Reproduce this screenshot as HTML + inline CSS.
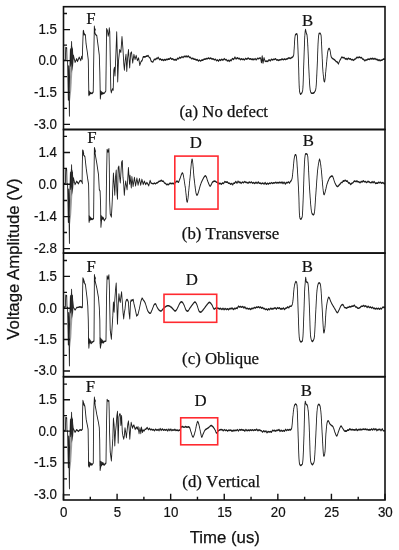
<!DOCTYPE html>
<html><head><meta charset="utf-8"><title>Voltage Amplitude vs Time</title><style>
html,body{margin:0;padding:0;background:#fff;width:399px;height:550px;overflow:hidden}
svg{display:block}
.w{fill:none;stroke:#1e1e1e;stroke-width:1.6;stroke-linejoin:round}
.r{fill:none;stroke:#ff2a30;stroke-width:1.6}
.f{fill:none;stroke:#111;stroke-width:1.6}
.t{fill:none;stroke:#111;stroke-width:1.4}
.yl{stroke:#111;stroke-width:0.18px;font-family:"Liberation Sans",Arial,sans-serif;font-size:13.8px;fill:#111;text-anchor:end}
.xl{stroke:#111;stroke-width:0.18px;font-family:"Liberation Sans",Arial,sans-serif;font-size:13.8px;fill:#111;text-anchor:middle}
.al{stroke:#111;stroke-width:0.25px;font-family:"Liberation Sans",Arial,sans-serif;font-size:16.8px;fill:#111}
.cp{stroke:#111;stroke-width:0.25px;font-kerning:none;font-family:"Liberation Serif","Times New Roman",serif;font-size:16.8px;fill:#111}
.lt{stroke:#111;stroke-width:0.2px;font-family:"Liberation Serif","Times New Roman",serif;font-size:16.8px;fill:#111}
</style></head><body>
<svg width="399" height="550" viewBox="0 0 399 550">
<rect width="399" height="550" fill="#fff"/>
<g transform="scale(0.550,1)">
<polyline class="w" points="116.4,60.5 118.9,60.0 119.5,47.5 121.3,48.0 121.8,60.0 122.9,61.0 124.2,100.0 124.9,66.0 126.2,116.0 126.9,71.0 128.0,49.0 128.9,66.0 130.2,41.7 130.9,63.0 131.8,49.0 132.7,59.0 133.6,55.6 136.5,62.2 139.5,58.9 140.9,61.4 144.0,57.3 146.9,60.5 148.4,56.5 149.6,59.0 150.4,45.0 151.3,31.0 152.0,30.7 152.7,34.0 155.3,35.0 156.5,43.8 158.9,52.6 160.5,60.0 161.1,80.0 161.6,95.5 162.5,94.5 164.5,93.0 167.3,93.5 169.5,92.0 170.4,60.0 171.5,26.3 172.5,32.5 173.6,34.4 176.0,35.7 178.2,45.0 180.5,55.0 181.5,72.0 182.4,98.8 183.6,93.5 186.4,93.6 190.0,93.0 192.4,91.0 193.1,60.0 193.8,28.8 195.3,30.5 196.7,36.0 197.6,34.0 198.7,28.1 199.6,32.0 200.5,60.0 201.5,90.0 202.4,92.6 204.2,89.0 205.8,90.0 206.9,70.0 208.0,67.6 209.1,75.8 211.1,48.6 212.2,32.1 213.3,54.5 214.0,81.7 215.5,60.5 217.6,49.8 219.8,52.2 221.8,36.8 223.5,48.6 225.1,64.0 226.2,70.0 227.6,60.5 229.1,54.5 230.5,71.1 232.0,58.1 233.6,49.8 235.8,67.6 237.6,53.4 239.1,52.2 241.3,62.8 243.5,54.5 245.5,59.3 247.6,55.7 249.8,60.5 252.0,58.1 254.2,65.2 256.4,61.6 257.4,61.0 258.4,60.5 258.7,60.0 259.0,59.4 259.4,58.6 259.7,57.9 260.1,57.3 260.5,56.9 262.1,56.8 263.8,56.9 265.0,56.5 266.2,56.0 267.3,56.3 269.4,55.6 271.4,57.5 273.0,58.0 274.7,61.0 276.5,61.7 278.1,62.0 280.4,59.3 282.3,59.7 284.1,58.4 285.8,58.7 287.6,57.4 290.0,59.6 291.8,58.9 293.6,60.2 295.2,59.6 297.2,60.5 299.0,59.5 300.6,60.2 302.3,59.3 303.9,59.8 305.7,58.9 307.8,59.2 310.0,57.9 312.2,59.2 314.1,58.7 316.5,60.1 318.7,59.4 320.3,60.3 322.6,58.4 324.8,58.8 326.5,57.3 328.5,58.1 330.8,56.6 332.8,57.6 335.0,56.2 336.8,56.8 338.5,56.0 340.1,57.0 342.2,55.9 344.3,57.4 346.3,57.3 348.5,58.8 350.5,58.2 352.7,59.3 354.8,59.1 356.5,60.0 358.7,59.6 360.9,61.0 362.9,60.1 364.9,61.1 367.1,59.9 369.2,60.2 370.9,59.1 373.1,59.3 375.1,58.5 376.8,58.9 378.9,57.9 381.1,58.8 383.1,58.1 385.1,59.0 387.4,58.7 389.8,59.9 391.4,59.1 393.6,60.7 395.6,59.9 397.4,61.1 399.1,59.5 400.8,60.4 403.2,59.3 405.5,60.2 407.8,58.6 409.6,59.8 411.5,59.5 413.1,60.9 415.1,60.2 416.8,61.4 418.7,60.0 420.3,60.7 422.5,58.6 424.9,59.4 427.2,57.2 429.1,59.0 431.5,57.7 433.4,58.7 435.2,58.3 436.9,59.7 438.7,58.7 440.5,59.5 442.5,59.1 444.4,59.9 446.7,58.4 448.8,59.2 451.2,58.0 453.4,59.1 455.6,58.7 457.8,59.5 459.6,59.1 461.9,59.6 463.9,58.6 465.7,59.9 468.1,58.3 470.2,58.8 472.3,58.0 473.6,58.0 473.9,58.5 474.2,59.2 474.5,60.2 474.8,61.1 475.0,61.9 475.2,62.4 475.5,62.5 475.6,62.2 475.7,61.7 475.9,60.9 476.0,60.0 476.1,59.1 476.2,58.2 476.3,57.3 476.5,56.6 476.6,56.2 476.7,56.0 476.9,56.2 477.0,56.6 477.1,57.3 477.2,58.1 477.4,58.9 477.5,59.9 477.6,60.8 477.8,61.6 477.9,62.3 478.0,62.8 478.2,63.0 478.4,62.9 478.6,62.4 478.8,61.7 479.1,60.8 479.3,59.8 479.5,59.0 479.8,58.3 480.0,58.0 480.4,58.1 480.7,58.8 481.1,59.6 481.5,60.5 481.8,61.0 483.6,61.4 485.4,60.9 487.1,61.5 489.1,59.7 491.5,60.9 493.4,59.2 495.2,59.9 497.0,59.3 498.8,59.5 500.9,58.7 503.1,60.2 505.0,59.8 506.9,60.4 508.6,59.7 510.9,59.6 513.0,59.1 515.2,59.7 517.1,58.9 519.0,59.6 521.3,58.9 523.6,58.6 525.3,57.7 527.6,58.5 529.8,57.7 531.0,57.4 532.0,57.0 532.9,56.5 533.6,55.7 533.9,55.3 534.0,54.8 534.2,54.3 534.3,53.8 534.3,53.2 534.4,52.6 534.5,51.9 534.5,51.2 534.6,50.4 534.7,49.6 534.8,49.1 534.9,48.6 534.9,48.0 535.0,47.4 535.1,46.7 535.1,46.0 535.2,45.4 535.3,44.7 535.4,44.0 535.4,43.3 535.5,42.6 535.6,41.9 535.6,41.3 535.7,40.7 535.8,40.1 535.9,39.5 535.9,39.0 536.0,38.6 536.2,37.5 536.4,36.6 536.6,35.9 536.8,35.4 537.0,34.9 537.3,34.5 539.1,33.9 539.9,33.9 540.5,35.2 540.6,35.6 540.7,35.9 540.7,36.3 540.8,36.8 540.8,37.3 540.9,37.8 540.9,38.3 541.0,38.9 541.0,39.5 541.1,40.1 541.1,40.8 541.2,41.5 541.2,42.2 541.3,43.0 541.3,43.8 541.4,44.6 541.5,45.5 541.5,46.0 541.5,46.4 541.6,46.9 541.6,47.4 541.6,48.0 541.7,48.5 541.7,49.0 541.8,49.6 541.8,50.2 541.9,50.8 541.9,51.3 541.9,51.9 542.0,52.6 542.0,53.2 542.1,53.8 542.1,54.4 542.2,55.1 542.2,55.7 542.3,56.3 542.3,57.0 542.4,57.6 542.4,58.3 542.4,58.9 542.5,59.6 542.5,60.2 542.6,60.9 542.6,61.5 542.7,62.2 542.7,62.8 542.8,63.4 542.8,64.1 542.8,64.7 542.9,65.3 542.9,65.9 542.9,66.5 543.0,67.1 543.0,67.8 543.1,68.4 543.1,69.0 543.1,69.7 543.2,70.3 543.2,71.0 543.2,71.7 543.2,72.3 543.3,73.0 543.3,73.7 543.3,74.3 543.4,75.0 543.4,75.7 543.4,76.3 543.5,77.0 543.5,77.7 543.5,78.3 543.5,78.9 543.6,79.6 543.6,80.2 543.6,80.8 543.7,81.4 543.7,82.0 543.7,82.5 543.8,83.1 543.8,83.6 543.8,84.1 543.9,84.6 543.9,85.1 543.9,85.6 544.0,86.0 544.0,86.4 544.1,87.6 544.2,88.6 544.4,89.4 544.5,90.1 544.6,90.8 544.7,91.3 544.9,91.8 545.0,92.2 545.2,92.5 545.3,92.9 545.5,93.2 546.3,94.1 547.3,93.9 547.9,93.6 548.5,93.2 549.1,92.6 549.6,91.8 549.8,91.4 550.0,91.1 550.1,90.8 550.3,90.5 550.4,90.0 550.5,89.4 550.6,88.7 550.8,87.7 550.9,86.4 550.9,86.0 551.0,85.6 551.0,85.1 551.1,84.7 551.1,84.2 551.1,83.7 551.2,83.2 551.2,82.6 551.2,82.1 551.3,81.5 551.3,80.9 551.4,80.3 551.4,79.7 551.4,79.0 551.5,78.4 551.5,77.7 551.5,77.1 551.6,76.4 551.6,75.8 551.7,75.1 551.7,74.4 551.7,73.7 551.8,73.1 551.8,72.4 551.8,71.7 551.9,71.0 551.9,70.4 552.0,69.7 552.0,69.0 552.0,68.4 552.1,67.8 552.1,67.1 552.1,66.5 552.2,65.9 552.2,65.3 552.3,64.7 552.3,64.1 552.3,63.4 552.4,62.8 552.4,62.2 552.5,61.5 552.5,60.9 552.5,60.2 552.6,59.6 552.6,58.9 552.7,58.3 552.7,57.6 552.7,57.0 552.8,56.3 552.8,55.7 552.9,55.0 552.9,54.4 552.9,53.8 553.0,53.1 553.0,52.5 553.0,51.9 553.1,51.3 553.1,50.7 553.2,50.1 553.2,49.6 553.2,49.0 553.3,48.5 553.3,47.9 553.3,47.4 553.4,46.9 553.4,46.4 553.4,46.0 553.5,45.5 553.5,44.6 553.6,43.8 553.6,43.0 553.7,42.2 553.7,41.6 553.8,40.9 553.8,40.3 553.8,39.8 553.9,39.2 553.9,38.7 554.0,38.2 554.0,37.8 554.0,37.3 554.1,36.8 554.1,36.4 554.2,35.9 554.3,35.1 554.4,34.3 554.5,33.6 554.6,33.0 554.7,32.4 554.8,31.8 554.9,31.3 555.0,30.9 555.1,30.5 555.5,29.5 555.7,29.9 555.9,30.4 556.2,31.1 556.5,31.9 556.8,32.6 557.1,33.2 557.4,33.8 557.7,34.2 558.1,34.8 558.4,35.9 558.4,36.3 558.5,36.7 558.6,37.1 558.7,37.6 558.7,38.0 558.8,38.5 558.9,39.0 559.0,39.6 559.1,40.2 559.1,40.8 559.2,41.5 559.3,42.2 559.4,42.9 559.5,43.7 559.5,44.6 559.6,45.5 559.7,46.0 559.7,46.4 559.8,46.9 559.8,47.4 559.9,47.9 559.9,48.5 559.9,49.0 560.0,49.6 560.0,50.1 560.1,50.7 560.1,51.3 560.2,51.9 560.2,52.5 560.3,53.1 560.3,53.8 560.4,54.4 560.4,55.0 560.5,55.7 560.5,56.3 560.6,57.0 560.6,57.6 560.7,58.3 560.7,58.9 560.8,59.6 560.8,60.2 560.9,60.9 560.9,61.5 561.0,62.2 561.0,62.8 561.1,63.4 561.1,64.1 561.2,64.7 561.2,65.3 561.3,65.9 561.3,66.5 561.4,67.1 561.4,67.8 561.5,68.4 561.5,69.0 561.6,69.7 561.7,70.4 561.7,71.0 561.8,71.7 561.8,72.4 561.9,73.0 562.0,73.7 562.0,74.4 562.1,75.1 562.1,75.7 562.2,76.4 562.2,77.0 562.3,77.7 562.4,78.3 562.4,79.0 562.5,79.6 562.6,80.2 562.6,80.8 562.7,81.4 562.7,82.0 562.8,82.6 562.9,83.1 562.9,83.6 563.0,84.2 563.0,84.6 563.1,85.1 563.2,85.6 563.2,86.0 563.3,86.4 563.5,87.6 563.7,88.6 563.8,89.5 564.0,90.1 564.2,90.7 564.4,91.1 564.6,91.5 564.8,91.9 565.0,92.2 565.3,92.5 566.2,93.2 567.2,93.3 568.4,93.2 569.3,93.1 570.3,92.9 571.3,92.5 572.2,91.8 572.5,91.5 572.8,91.2 573.1,90.9 573.4,90.5 573.7,90.1 574.0,89.5 574.2,88.7 574.5,87.7 574.7,86.4 574.8,86.0 574.9,85.6 574.9,85.2 575.0,84.7 575.1,84.2 575.1,83.7 575.2,83.2 575.2,82.7 575.3,82.1 575.4,81.6 575.4,81.0 575.5,80.4 575.5,79.8 575.6,79.2 575.7,78.5 575.7,77.9 575.8,77.3 575.8,76.6 575.9,76.0 576.0,75.3 576.0,74.6 576.1,73.9 576.1,73.3 576.2,72.6 576.2,71.9 576.3,71.2 576.3,70.6 576.4,69.9 576.5,69.2 576.5,68.5 576.6,67.9 576.6,67.2 576.7,66.5 576.7,65.9 576.8,65.3 576.8,64.7 576.9,64.1 576.9,63.5 577.0,62.9 577.0,62.2 577.1,61.6 577.1,60.9 577.1,60.3 577.2,59.6 577.2,58.9 577.3,58.3 577.3,57.6 577.4,56.9 577.4,56.2 577.5,55.6 577.5,54.9 577.5,54.2 577.6,53.5 577.6,52.9 577.7,52.2 577.7,51.5 577.8,50.9 577.8,50.3 577.8,49.6 577.9,49.0 577.9,48.4 578.0,47.8 578.0,47.2 578.0,46.6 578.1,46.1 578.1,45.6 578.2,45.0 578.2,44.5 578.2,44.0 578.3,43.6 578.3,43.1 578.4,42.7 578.5,41.6 578.6,40.5 578.7,39.6 578.8,38.8 578.9,38.1 579.0,37.5 579.1,36.9 579.2,36.4 579.3,36.0 579.4,35.6 579.4,35.2 579.5,34.9 579.6,34.5 580.2,33.4 580.9,33.5 582.2,33.4 583.5,34.5 583.6,34.9 583.7,35.2 583.8,35.6 583.9,36.0 583.9,36.4 584.0,36.9 584.1,37.5 584.1,38.1 584.2,38.8 584.3,39.6 584.3,40.5 584.4,41.6 584.5,42.7 584.6,43.1 584.6,43.6 584.7,44.1 584.7,44.6 584.8,45.1 584.8,45.6 584.9,46.2 584.9,46.8 585.0,47.4 585.0,48.0 585.1,48.6 585.1,49.3 585.2,49.9 585.2,50.6 585.3,51.3 585.3,52.0 585.4,52.7 585.4,53.3 585.5,54.0 585.6,54.7 585.6,55.4 585.7,56.1 585.7,56.8 585.8,57.5 585.8,58.2 585.9,58.9 586.0,59.5 586.0,60.2 586.1,60.8 586.1,61.5 586.2,62.1 586.2,62.7 586.3,63.3 586.3,63.8 586.4,64.4 586.4,64.9 586.5,65.4 586.5,65.9 586.6,66.8 586.7,67.6 586.8,68.4 586.9,69.2 587.0,70.0 587.1,70.7 587.2,71.4 587.3,72.0 587.4,72.7 587.5,73.3 587.6,73.9 587.7,74.4 587.8,75.0 587.9,75.5 588.0,76.0 588.0,76.5 588.1,76.9 588.2,77.4 588.3,77.8 588.4,78.2 588.7,79.5 588.9,80.5 589.2,81.1 589.4,81.4 589.6,81.6 590.0,81.8 590.4,81.3 590.9,79.6 591.0,79.2 591.1,78.8 591.2,78.3 591.3,77.8 591.4,77.3 591.5,76.7 591.6,76.1 591.7,75.5 591.8,74.8 591.9,74.2 592.0,73.5 592.1,72.8 592.2,72.1 592.4,71.4 592.5,70.7 592.6,69.9 592.7,69.2 592.8,68.5 592.9,67.9 593.0,67.2 593.2,66.5 593.3,65.9 593.4,65.3 593.5,64.6 593.6,64.0 593.7,63.3 593.8,62.6 594.0,61.9 594.1,61.2 594.2,60.5 594.3,59.8 594.4,59.2 594.5,58.5 594.7,57.8 594.8,57.2 594.9,56.5 595.0,55.9 595.1,55.3 595.2,54.7 595.4,54.2 595.5,53.7 595.6,53.2 595.7,52.7 595.8,52.3 596.2,51.0 596.6,50.1 597.0,49.4 597.4,49.0 597.8,48.7 598.2,48.5 598.8,48.5 599.4,49.1 600.0,50.2 600.2,50.7 600.4,51.2 600.6,51.9 600.8,52.6 601.0,53.3 601.2,54.0 601.4,54.7 601.6,55.4 601.8,55.9 602.0,56.4 602.6,57.2 603.2,57.7 603.8,58.0 604.5,58.4 605.4,58.8 606.3,59.1 607.2,59.4 608.2,59.8 609.1,60.3 610.1,60.8 611.1,61.5 613.0,61.9 615.3,63.9 617.7,60.6 619.3,59.1 621.4,57.0 623.7,57.7 625.8,57.5 627.8,59.1 629.4,58.5 631.2,59.5 633.3,58.1 635.0,59.0 637.1,58.7 638.8,59.8 640.9,59.5 642.8,60.4 644.8,59.3 646.7,58.8 649.1,57.3 651.4,57.7 653.1,56.9 655.5,57.7 657.4,57.6 659.4,59.1 661.3,59.4 663.4,60.9 665.2,59.9 667.1,60.0 669.2,59.0 671.5,59.5 673.5,58.5 675.8,58.9 678.1,58.4 679.9,59.3 681.7,58.4 683.7,59.5 685.5,59.2 687.6,60.5 689.3,59.8 691.1,60.9 692.8,60.0 694.5,60.3 696.8,59.1 700.0,59.1"/>
<polyline class="w" points="116.4,183.8 118.9,183.3 119.5,169.3 121.3,169.8 121.8,183.3 122.9,184.3 124.2,222.3 124.9,189.3 126.2,243.3 126.9,194.3 128.0,172.3 128.9,189.3 130.2,165.0 130.9,186.3 131.8,172.3 132.7,182.3 133.6,178.0 136.4,184.5 139.5,181.3 142.5,183.7 145.5,180.5 148.4,181.3 149.8,183.3 149.3,181.0 149.6,165.0 150.2,150.2 151.3,151.0 152.2,155.1 154.4,156.7 156.7,168.2 159.6,179.6 161.1,184.6 161.6,200.0 162.0,222.2 162.7,219.0 164.5,218.5 167.3,219.5 170.2,218.5 170.7,190.0 171.3,160.0 171.6,147.7 172.4,149.0 173.1,154.3 176.0,163.3 179.1,174.7 180.5,189.5 182.0,191.1 182.9,205.0 183.5,227.1 184.9,219.0 187.3,217.5 189.5,220.6 192.7,218.0 193.6,180.0 194.7,149.5 196.4,152.0 198.0,148.8 198.7,165.0 199.3,200.0 200.4,214.0 202.5,216.8 203.8,204.5 206.2,173.2 207.5,184.0 208.7,195.0 210.0,177.2 211.3,170.4 212.5,190.9 213.6,199.0 214.9,167.7 216.2,166.3 217.5,177.2 218.7,182.7 221.1,162.3 222.4,160.9 223.6,177.2 224.9,184.0 226.0,195.0 227.3,186.8 228.5,181.3 229.8,185.4 231.1,189.5 233.5,167.7 234.7,177.2 235.5,184.0 236.4,175.6 238.7,187.6 239.8,176.9 242.0,186.3 244.4,177.5 246.5,185.7 248.9,178.2 251.1,185.0 253.5,178.8 255.8,185.0 258.0,179.4 260.4,184.4 262.5,181.3 264.9,184.4 267.1,182.5 270.5,185.6 272.9,180.5 274.6,183.0 276.8,183.5 279.0,183.7 280.9,183.1 282.6,183.9 284.4,183.0 286.8,182.6 289.2,181.2 291.0,181.2 293.3,180.3 294.9,181.2 296.8,181.0 298.6,182.7 300.9,183.4 302.8,184.6 305.1,184.2 306.7,184.7 309.0,183.1 311.2,183.8 313.1,183.3 315.5,183.8 317.3,182.3 319.1,182.6 320.7,181.3 322.0,181.4 322.9,181.3 323.8,182.0 324.5,182.3 324.9,182.0 325.3,181.5 325.7,180.8 326.2,180.1 326.7,179.4 327.3,178.6 327.7,178.0 328.2,177.2 328.8,176.2 329.3,175.3 329.9,174.4 330.5,173.7 331.1,173.2 331.6,173.0 332.2,173.3 332.4,173.5 332.6,173.8 332.8,174.1 333.0,174.5 333.2,175.0 333.4,175.5 333.6,176.0 333.8,176.6 334.0,177.2 334.2,177.9 334.4,178.5 334.6,179.2 334.8,179.9 335.0,180.6 335.2,181.4 335.4,182.1 335.6,182.8 335.8,183.6 336.0,184.3 336.2,185.0 336.4,185.7 336.6,186.3 336.7,187.0 336.9,187.6 337.1,188.2 337.2,188.9 337.4,189.6 337.6,190.4 337.7,191.2 337.9,192.0 338.0,192.9 338.2,193.7 338.3,194.5 338.5,195.4 338.6,196.2 338.7,197.0 338.9,197.8 339.0,198.5 339.2,199.2 339.3,199.8 339.5,200.4 339.6,200.9 339.7,201.3 339.9,201.6 340.1,201.8 340.2,202.0 340.4,202.0 340.5,201.9 340.7,201.8 340.8,201.6 340.9,201.3 341.0,201.1 341.1,200.7 341.3,200.3 341.4,199.9 341.5,199.5 341.6,199.0 341.8,198.4 341.9,197.9 342.0,197.3 342.1,196.6 342.3,196.0 342.4,195.3 342.5,194.6 342.7,193.9 342.8,193.2 342.9,192.5 343.0,191.7 343.2,190.9 343.3,190.2 343.4,189.4 343.6,188.6 343.7,187.9 343.8,187.1 344.0,186.3 344.1,185.6 344.2,184.8 344.3,184.1 344.5,183.4 344.6,182.7 344.7,182.0 344.8,181.3 345.0,180.7 345.1,180.1 345.2,179.5 345.3,178.8 345.5,178.1 345.6,177.4 345.7,176.6 345.9,175.8 346.0,175.1 346.1,174.3 346.2,173.5 346.4,172.6 346.5,171.8 346.6,171.0 346.7,170.2 346.8,169.4 347.0,168.6 347.1,167.8 347.2,167.0 347.3,166.3 347.5,165.6 347.6,164.9 347.7,164.2 347.8,163.5 347.9,162.9 348.1,162.3 348.2,161.8 348.3,161.3 348.4,160.9 348.6,160.5 348.7,160.1 348.8,159.8 348.9,159.6 349.0,159.4 349.2,159.3 349.3,159.3 349.4,159.3 349.5,159.4 349.6,159.6 349.7,159.9 349.9,160.2 350.0,160.6 350.1,161.0 350.2,161.5 350.3,162.0 350.4,162.5 350.6,163.2 350.7,163.8 350.8,164.5 350.9,165.2 351.0,165.9 351.1,166.7 351.2,167.5 351.4,168.3 351.5,169.1 351.6,169.9 351.7,170.7 351.8,171.5 351.9,172.3 352.0,173.1 352.2,173.9 352.3,174.7 352.4,175.5 352.5,176.2 352.6,177.0 352.8,177.7 352.9,178.3 353.0,179.0 353.1,179.6 353.3,180.1 353.4,180.8 353.6,181.6 353.8,182.3 354.0,183.1 354.1,183.9 354.3,184.7 354.5,185.5 354.6,186.3 354.8,187.0 355.0,187.8 355.1,188.6 355.3,189.3 355.5,190.0 355.7,190.7 355.9,191.3 356.1,191.9 356.2,192.5 356.4,193.0 356.6,193.5 356.9,193.9 357.1,194.3 357.3,194.6 357.5,194.8 357.8,195.0 358.0,195.1 358.3,195.1 358.6,195.0 358.9,194.8 359.3,194.4 359.6,194.0 360.0,193.5 360.3,192.9 360.7,192.3 361.1,191.6 361.4,190.9 361.8,190.1 362.2,189.3 362.6,188.5 363.0,187.7 363.4,187.0 363.8,186.2 364.1,185.5 364.5,184.8 364.9,184.2 365.3,183.6 365.6,183.1 366.2,182.4 366.8,181.6 367.5,180.8 368.1,180.1 368.7,179.4 369.3,178.7 369.9,178.1 370.5,177.5 371.1,177.0 371.7,176.6 372.3,176.2 372.8,176.0 373.3,175.9 373.9,176.0 374.4,176.2 374.9,176.7 375.4,177.3 375.9,178.0 376.3,178.8 376.7,179.6 377.1,180.3 377.6,181.0 378.0,181.6 378.5,182.3 379.0,183.0 379.5,183.7 380.0,184.4 380.5,185.1 381.0,185.6 381.5,185.9 382.0,186.1 382.6,186.0 383.2,185.5 383.8,184.9 384.4,184.2 385.0,183.4 385.6,182.8 386.2,182.3 387.2,181.8 388.2,181.4 389.2,181.2 390.2,181.1 391.2,181.2 392.2,181.5 393.2,181.9 394.4,182.3 395.5,182.6 396.9,182.8 397.5,183.5 396.4,183.5 398.2,183.6 400.6,183.4 402.4,184.3 404.7,182.9 406.6,183.5 408.6,181.6 410.9,182.3 413.2,181.9 415.4,183.2 417.5,183.2 419.4,184.2 421.6,183.4 423.3,184.8 425.1,183.0 426.8,183.1 428.6,181.5 430.9,183.2 432.7,181.2 434.4,182.4 436.6,182.1 438.4,183.4 440.5,182.1 442.7,182.7 444.8,181.6 447.1,182.4 449.1,182.5 451.3,183.2 453.1,181.9 454.8,182.9 456.9,181.9 458.8,183.2 460.8,182.6 463.1,183.5 465.5,182.2 467.4,183.4 469.7,182.0 471.4,183.3 473.0,183.1 475.4,183.7 477.8,183.0 480.1,184.1 481.9,182.5 484.2,184.3 486.3,183.3 488.1,184.1 489.8,183.1 491.6,183.6 493.7,182.6 495.3,183.4 497.5,182.7 499.3,183.0 501.6,182.3 503.2,183.1 505.1,182.5 507.2,182.9 509.0,182.1 510.9,183.1 512.7,182.0 514.6,183.5 516.5,182.2 518.8,184.0 520.7,182.5 522.8,182.7 524.4,181.9 526.4,183.1 528.3,181.2 529.5,180.8 530.0,180.1 530.5,179.4 530.9,178.6 531.1,178.1 531.3,177.6 531.4,177.1 531.6,176.5 531.7,176.0 531.8,175.3 532.0,174.7 532.1,174.0 532.2,173.2 532.4,172.4 532.5,171.6 532.6,171.1 532.7,170.5 532.8,170.0 532.9,169.4 533.1,168.7 533.2,168.1 533.3,167.4 533.4,166.7 533.5,166.0 533.6,165.3 533.7,164.6 533.8,163.9 534.0,163.2 534.1,162.6 534.2,161.9 534.3,161.3 534.4,160.8 534.5,160.2 534.6,159.7 534.7,159.3 535.0,158.2 535.3,157.3 535.6,156.5 535.9,155.9 536.1,155.5 536.4,155.1 536.7,154.9 537.5,154.7 538.2,155.2 538.9,156.7 539.0,157.1 539.1,157.5 539.2,157.9 539.3,158.3 539.4,158.8 539.5,159.3 539.5,159.8 539.6,160.3 539.7,160.9 539.8,161.5 539.9,162.2 540.0,162.9 540.0,163.6 540.1,164.4 540.2,165.2 540.3,166.1 540.4,167.0 540.5,168.0 540.6,168.4 540.7,168.9 540.7,169.4 540.8,169.9 540.8,170.4 540.9,170.9 540.9,171.5 541.0,172.0 541.1,172.6 541.1,173.2 541.2,173.7 541.3,174.3 541.3,174.9 541.4,175.5 541.5,176.2 541.5,176.8 541.6,177.4 541.7,178.1 541.7,178.7 541.8,179.4 541.9,180.0 541.9,180.7 542.0,181.3 542.1,182.0 542.1,182.6 542.2,183.3 542.3,183.9 542.3,184.6 542.4,185.3 542.5,185.9 542.5,186.5 542.6,187.2 542.7,187.8 542.7,188.4 542.8,189.1 542.8,189.7 542.9,190.3 542.9,190.9 543.0,191.5 543.0,192.0 543.1,192.6 543.1,193.3 543.2,193.9 543.2,194.6 543.3,195.3 543.3,195.9 543.4,196.6 543.4,197.3 543.5,198.0 543.5,198.7 543.5,199.3 543.6,200.0 543.6,200.7 543.6,201.4 543.7,202.1 543.7,202.7 543.7,203.4 543.8,204.0 543.8,204.7 543.8,205.3 543.8,205.9 543.9,206.6 543.9,207.2 543.9,207.8 544.0,208.4 544.0,208.9 544.0,209.5 544.1,210.0 544.1,210.5 544.1,211.1 544.2,211.5 544.2,212.0 544.2,212.5 544.3,212.9 544.3,213.3 544.4,213.7 544.6,215.2 544.8,216.3 545.0,217.1 545.2,217.7 545.4,218.2 545.7,218.5 545.9,218.7 546.2,219.0 547.4,219.1 548.5,218.0 548.8,217.7 549.0,217.5 549.2,217.3 549.4,216.9 549.6,216.2 549.8,215.2 550.0,213.7 550.0,213.3 550.1,212.9 550.1,212.5 550.2,212.1 550.2,211.6 550.3,211.1 550.3,210.6 550.4,210.1 550.4,209.6 550.5,209.0 550.5,208.5 550.5,207.9 550.6,207.3 550.6,206.7 550.7,206.1 550.7,205.5 550.8,204.8 550.8,204.2 550.9,203.5 550.9,202.9 551.0,202.2 551.0,201.5 551.1,200.9 551.1,200.2 551.2,199.5 551.2,198.8 551.3,198.1 551.3,197.4 551.4,196.7 551.4,196.0 551.4,195.3 551.5,194.7 551.5,194.0 551.6,193.3 551.6,192.6 551.7,192.0 551.7,191.5 551.8,190.9 551.8,190.3 551.8,189.7 551.9,189.1 551.9,188.4 551.9,187.8 552.0,187.2 552.0,186.5 552.1,185.9 552.1,185.2 552.1,184.6 552.2,183.9 552.2,183.2 552.2,182.5 552.3,181.9 552.3,181.2 552.4,180.5 552.4,179.9 552.4,179.2 552.5,178.5 552.5,177.8 552.5,177.2 552.6,176.5 552.6,175.9 552.7,175.2 552.7,174.6 552.7,173.9 552.8,173.3 552.8,172.7 552.9,172.1 552.9,171.5 552.9,170.9 553.0,170.3 553.0,169.8 553.0,169.2 553.1,168.7 553.1,168.2 553.2,167.7 553.2,167.2 553.2,166.7 553.3,166.3 553.4,165.3 553.4,164.4 553.5,163.6 553.6,162.7 553.7,162.0 553.8,161.2 553.9,160.6 554.0,159.9 554.0,159.3 554.1,158.7 554.2,158.2 554.3,157.7 554.4,157.2 554.5,156.8 554.6,156.4 554.7,156.0 554.7,155.6 554.8,155.2 554.9,154.9 555.7,153.7 556.5,154.0 557.8,153.9 559.1,154.9 559.2,155.2 559.3,155.5 559.4,155.9 559.5,156.2 559.6,156.6 559.7,157.0 559.8,157.5 559.8,158.1 559.9,158.8 560.0,159.6 560.1,160.5 560.2,161.6 560.4,162.8 560.4,163.2 560.5,163.6 560.5,164.1 560.5,164.6 560.6,165.1 560.6,165.6 560.7,166.1 560.8,166.6 560.8,167.2 560.9,167.8 560.9,168.4 561.0,169.0 561.0,169.6 561.1,170.2 561.1,170.8 561.2,171.5 561.3,172.1 561.3,172.8 561.4,173.4 561.4,174.1 561.5,174.8 561.6,175.5 561.6,176.1 561.7,176.8 561.7,177.5 561.8,178.2 561.9,178.9 561.9,179.6 562.0,180.3 562.1,180.9 562.1,181.6 562.2,182.3 562.3,183.0 562.3,183.6 562.4,184.3 562.4,184.9 562.5,185.5 562.6,186.2 562.6,186.8 562.7,187.4 562.8,188.0 562.8,188.5 562.9,189.1 563.0,189.8 563.1,190.5 563.2,191.2 563.2,191.8 563.3,192.5 563.4,193.2 563.5,193.9 563.6,194.6 563.7,195.3 563.7,196.0 563.8,196.7 563.9,197.4 564.0,198.0 564.1,198.7 564.2,199.4 564.3,200.0 564.4,200.7 564.5,201.3 564.5,202.0 564.6,202.6 564.7,203.2 564.8,203.8 564.9,204.4 565.0,205.0 565.1,205.5 565.2,206.1 565.3,206.6 565.4,207.1 565.5,207.6 565.5,208.1 565.6,208.6 565.7,209.0 565.8,209.4 565.9,209.8 566.0,210.2 566.5,211.8 566.9,212.9 567.4,213.6 567.9,214.1 568.4,214.3 568.8,214.5 569.3,214.6 569.8,214.7 570.4,214.7 570.9,214.3 571.3,213.4 571.8,211.9 571.9,211.5 572.0,211.1 572.1,210.7 572.2,210.3 572.2,209.8 572.3,209.3 572.4,208.8 572.5,208.3 572.6,207.7 572.6,207.2 572.7,206.6 572.8,206.0 572.9,205.4 572.9,204.7 573.0,204.1 573.1,203.4 573.2,202.7 573.3,202.0 573.3,201.3 573.4,200.6 573.5,199.9 573.6,199.1 573.7,198.4 573.8,197.6 573.9,196.9 574.0,196.1 574.1,195.6 574.1,195.1 574.2,194.5 574.3,193.9 574.4,193.4 574.4,192.8 574.5,192.2 574.6,191.5 574.7,190.9 574.7,190.3 574.8,189.6 574.9,189.0 575.0,188.3 575.1,187.6 575.2,187.0 575.2,186.3 575.3,185.6 575.4,184.9 575.5,184.3 575.6,183.6 575.7,182.9 575.8,182.2 575.8,181.5 575.9,180.9 576.0,180.2 576.1,179.6 576.2,178.9 576.3,178.3 576.4,177.6 576.4,177.0 576.5,176.4 576.6,175.8 576.7,175.2 576.8,174.6 576.9,174.1 576.9,173.6 577.0,173.0 577.1,172.5 577.2,172.1 577.3,171.6 577.4,170.7 577.6,169.8 577.8,168.9 578.0,168.1 578.1,167.4 578.3,166.6 578.5,165.9 578.7,165.2 578.8,164.6 579.0,164.0 579.2,163.5 579.3,162.9 579.5,162.5 579.7,162.0 579.8,161.6 580.0,161.2 580.1,160.8 580.2,160.5 580.4,160.2 581.2,159.2 582.0,161.0 582.1,161.4 582.3,161.8 582.4,162.2 582.5,162.7 582.7,163.3 582.8,163.9 583.0,164.5 583.2,165.1 583.3,165.8 583.5,166.5 583.6,167.2 583.8,167.9 584.0,168.7 584.1,169.4 584.3,170.1 584.4,170.9 584.5,171.6 584.6,172.1 584.7,172.7 584.8,173.3 584.9,173.9 585.0,174.5 585.1,175.1 585.2,175.8 585.3,176.4 585.4,177.1 585.5,177.7 585.6,178.4 585.7,179.0 585.8,179.7 585.9,180.3 586.0,181.0 586.1,181.6 586.2,182.2 586.3,182.8 586.4,183.4 586.4,184.0 586.5,184.6 586.6,185.1 586.7,185.6 586.9,186.4 587.0,187.2 587.2,188.1 587.3,188.9 587.5,189.6 587.6,190.4 587.8,191.1 587.9,191.8 588.1,192.4 588.2,192.9 588.4,193.4 588.6,193.8 588.7,194.2 588.9,194.4 589.3,194.6 589.8,194.3 590.2,193.6 590.7,192.8 591.2,191.8 591.6,190.9 591.9,190.4 592.1,189.9 592.3,189.4 592.6,188.8 592.8,188.2 593.1,187.6 593.3,186.9 593.6,186.3 593.8,185.7 594.1,185.1 594.4,184.5 594.7,183.9 595.1,183.3 595.5,182.7 595.9,182.0 596.3,181.4 596.8,180.8 597.3,180.2 597.7,179.6 598.2,179.0 598.6,178.5 599.0,178.1 599.5,177.7 600.6,176.9 601.7,176.4 602.7,176.1 603.6,176.0 604.5,176.2 605.1,176.7 605.8,177.7 606.1,178.1 606.5,178.7 606.8,179.3 607.1,179.9 607.5,180.6 607.9,181.2 608.3,181.9 608.7,182.5 609.1,183.0 609.7,183.7 610.4,184.5 611.1,185.2 611.9,185.8 612.6,186.2 613.3,186.5 614.2,186.4 615.1,186.0 616.1,185.3 617.1,184.7 617.8,184.3 618.5,184.1 620.2,182.5 622.3,182.5 623.9,180.9 625.8,181.1 627.5,180.1 629.6,181.2 631.3,180.9 633.5,182.9 635.3,182.9 637.6,184.5 639.6,183.3 641.9,182.7 644.3,181.0 646.5,181.5 648.7,181.1 650.7,181.6 652.9,182.0 654.7,182.8 656.7,181.4 658.4,182.0 660.6,180.7 662.2,181.8 664.4,181.5 666.7,182.6 668.8,181.4 670.9,181.7 672.8,182.5 674.8,182.7 676.7,181.6 678.3,182.8 680.3,181.5 682.5,183.4 684.5,183.0 686.5,183.3 688.2,182.3 689.9,182.8 691.9,182.2 694.0,183.2 696.2,182.5 698.2,183.6 700.0,183.6"/>
<polyline class="w" points="116.4,307.2 118.9,306.7 119.5,295.3 121.3,295.8 121.8,306.7 122.9,307.7 124.2,344.7 124.9,312.7 126.2,365.7 126.9,317.7 128.0,295.7 128.9,312.7 130.2,289.5 130.9,309.7 131.8,295.7 132.7,305.7 133.6,307.5 136.5,310.0 139.5,307.5 142.5,307.2 145.5,306.7 148.4,307.5 149.8,306.0 149.8,307.5 150.2,292.0 150.7,278.0 152.2,279.7 153.6,283.0 155.3,284.6 158.2,297.7 159.6,305.9 160.5,320.0 161.1,342.0 161.6,348.0 162.7,341.0 165.5,343.5 168.2,342.0 170.9,341.0 171.3,310.0 171.6,274.8 173.1,281.4 176.0,288.0 179.1,297.7 180.5,307.5 181.5,320.0 182.0,343.6 182.5,348.0 184.9,341.0 187.3,343.0 189.5,341.5 192.7,341.0 193.6,300.0 194.7,276.0 196.4,279.0 198.0,275.0 198.7,285.0 199.3,300.0 200.4,330.0 202.5,339.0 205.1,315.9 206.2,302.2 207.5,312.0 208.7,300.0 210.0,290.0 211.3,283.2 212.5,305.0 213.6,324.0 214.9,305.0 216.2,294.0 217.5,300.0 218.7,302.2 220.0,296.0 221.1,292.0 222.4,302.2 223.6,312.0 224.9,318.6 226.0,313.0 227.3,309.0 228.5,302.2 229.8,300.0 231.1,299.5 232.4,300.5 233.5,302.2 234.7,313.1 236.0,318.6 237.3,302.2 238.5,300.0 239.6,300.9 240.9,300.0 242.2,299.5 243.5,303.6 245.8,309.0 248.4,315.9 250.9,314.5 253.3,309.0 255.8,302.2 256.2,301.4 256.6,300.7 257.0,300.0 257.3,299.4 257.7,298.9 258.0,298.5 258.4,298.2 259.1,298.4 260.0,299.5 260.5,299.9 261.1,300.4 261.8,300.9 262.5,301.4 263.3,302.2 264.0,303.0 264.3,303.5 264.7,304.0 265.0,304.6 265.4,305.2 265.7,305.9 266.1,306.5 266.4,307.2 266.8,307.9 267.1,308.5 267.5,309.1 267.8,309.7 268.2,310.2 268.5,310.6 269.3,311.4 270.1,312.1 270.9,312.6 271.7,312.9 272.4,313.2 273.1,313.2 273.7,313.0 274.3,312.6 274.8,312.1 275.3,311.4 275.8,310.7 276.4,310.0 276.8,309.4 277.3,308.8 277.7,308.1 278.2,307.4 278.7,306.7 279.1,306.0 279.6,305.4 280.0,305.0 281.0,304.2 282.0,303.9 282.9,304.0 283.4,304.3 283.9,304.9 284.4,305.6 284.9,306.3 285.5,307.0 286.0,307.5 286.6,308.1 287.2,308.6 287.8,309.1 288.5,309.6 289.1,310.0 290.3,310.6 291.5,311.0 292.7,311.0 293.6,310.7 294.5,310.2 295.5,309.6 296.4,309.0 297.2,308.5 298.1,308.0 299.0,307.5 300.0,307.0 301.0,306.7 302.1,306.3 303.2,306.0 304.3,305.8 305.5,305.7 306.6,305.8 307.7,306.0 308.9,306.3 309.9,306.7 310.9,307.0 311.9,307.5 312.8,308.0 313.7,308.5 314.5,309.0 315.5,309.6 316.4,310.2 317.3,310.8 318.2,311.0 319.0,310.9 319.9,310.5 320.8,309.9 321.8,309.0 322.3,308.6 322.7,308.1 323.2,307.5 323.7,306.9 324.3,306.3 324.8,305.6 325.3,305.0 325.9,304.4 326.4,303.8 326.8,303.4 327.3,303.0 328.6,302.1 329.8,301.9 330.9,302.0 331.5,302.2 332.1,302.6 332.7,303.1 333.3,303.7 333.9,304.3 334.5,305.0 335.0,305.6 335.5,306.2 335.9,306.9 336.4,307.6 336.8,308.3 337.3,309.0 337.7,309.6 338.2,310.0 339.4,310.8 340.6,311.1 341.8,311.0 342.4,310.7 343.0,310.3 343.5,309.8 344.1,309.2 344.7,308.6 345.5,308.0 346.1,307.5 346.7,307.0 347.4,306.5 348.2,305.9 348.9,305.4 349.6,304.9 350.3,304.4 350.9,304.0 351.9,303.2 352.8,302.6 353.7,302.1 354.5,302.0 355.2,302.2 355.8,302.5 356.4,303.0 357.0,303.6 357.6,304.3 358.2,305.0 358.5,305.5 358.9,306.1 359.3,306.7 359.6,307.4 360.0,308.1 360.4,308.8 360.7,309.5 361.1,310.1 361.5,310.6 361.8,311.0 363.0,311.8 364.2,312.1 365.5,312.0 366.3,311.8 367.2,311.3 368.1,310.7 369.1,310.0 369.7,309.6 370.3,309.1 371.0,308.6 371.7,308.1 372.4,307.6 373.1,307.0 373.9,306.5 374.5,306.0 375.3,305.4 376.2,304.8 377.0,304.3 377.9,303.7 378.6,303.2 379.4,302.8 380.0,302.5 381.5,302.4 382.7,303.0 383.4,303.3 384.0,303.8 384.7,304.3 385.5,305.0 385.9,305.5 386.4,306.1 386.9,306.8 387.5,307.5 388.0,308.2 388.6,308.7 389.1,309.0 390.2,309.0 391.2,308.4 392.7,308.0 393.7,308.0 394.9,308.1 396.1,308.2 397.4,308.4 398.7,308.9 401.1,308.4 403.4,309.5 405.6,308.3 407.3,309.7 409.3,308.5 411.7,309.6 413.9,308.7 415.5,309.7 417.7,308.5 420.1,308.6 422.3,308.1 424.3,309.5 426.1,308.4 428.1,308.8 429.7,307.9 431.4,308.4 433.6,306.1 435.3,307.1 437.0,306.4 439.1,307.3 441.4,306.5 443.5,308.0 445.2,306.8 447.3,308.6 449.5,308.3 451.9,309.1 453.8,308.5 455.8,309.5 457.9,308.3 460.2,308.6 462.3,307.4 464.4,308.1 466.2,307.0 467.9,307.5 470.0,306.8 472.0,307.8 473.7,307.0 475.8,308.2 477.4,307.5 479.1,308.6 480.9,308.5 482.9,309.6 485.0,309.0 486.7,310.1 488.5,308.7 490.2,309.7 492.5,308.1 494.4,309.3 496.0,308.5 498.1,308.6 500.2,307.7 502.6,309.1 504.3,307.6 506.0,308.4 507.9,307.7 509.6,309.0 511.2,308.6 513.5,308.9 515.3,308.0 517.3,309.5 519.5,308.1 521.4,308.0 523.0,306.9 525.2,307.8 526.9,306.2 529.4,306.2 530.4,305.6 530.8,305.2 531.1,304.8 531.4,304.4 531.7,303.9 532.0,303.2 532.3,302.3 532.5,301.2 532.6,300.8 532.7,300.3 532.8,299.8 532.9,299.2 533.0,298.6 533.1,298.0 533.2,297.4 533.3,296.7 533.4,296.0 533.5,295.3 533.6,294.6 533.7,294.0 533.8,293.3 533.9,292.6 534.0,291.9 534.1,291.3 534.2,290.6 534.3,290.0 534.4,289.5 534.5,288.9 534.6,288.4 534.7,288.0 535.0,286.9 535.2,286.0 535.5,285.3 535.7,284.6 536.0,284.1 536.2,283.6 536.5,283.2 536.7,282.8 537.8,281.6 538.9,281.9 539.1,282.1 539.3,282.4 539.4,282.6 539.6,282.9 539.8,283.4 539.9,283.9 540.1,284.6 540.2,285.5 540.4,286.6 540.5,288.0 540.6,288.4 540.6,288.8 540.7,289.2 540.7,289.7 540.7,290.2 540.8,290.6 540.8,291.2 540.9,291.7 540.9,292.2 540.9,292.8 541.0,293.4 541.0,294.0 541.1,294.6 541.1,295.2 541.2,295.8 541.2,296.4 541.2,297.1 541.3,297.7 541.3,298.4 541.4,299.0 541.4,299.7 541.4,300.4 541.5,301.0 541.5,301.7 541.6,302.4 541.6,303.1 541.6,303.7 541.7,304.4 541.7,305.1 541.8,305.8 541.8,306.4 541.8,307.1 541.9,307.7 541.9,308.4 542.0,309.0 542.0,309.6 542.0,310.3 542.1,310.9 542.1,311.5 542.1,312.0 542.2,312.6 542.2,313.3 542.3,313.9 542.3,314.6 542.4,315.2 542.4,315.9 542.4,316.6 542.5,317.3 542.5,317.9 542.6,318.6 542.6,319.3 542.6,320.0 542.7,320.6 542.7,321.3 542.8,322.0 542.8,322.6 542.8,323.3 542.9,323.9 542.9,324.6 543.0,325.2 543.0,325.8 543.1,326.4 543.1,327.0 543.1,327.6 543.2,328.2 543.2,328.8 543.3,329.4 543.3,329.9 543.3,330.4 543.4,331.0 543.4,331.5 543.5,331.9 543.5,332.4 543.5,332.9 543.6,333.3 543.6,333.7 543.8,334.9 543.9,335.9 544.0,336.8 544.1,337.5 544.3,338.2 544.4,338.7 544.5,339.2 544.7,339.6 544.9,340.0 545.1,340.3 545.3,340.7 546.3,341.6 547.5,341.9 548.5,341.6 548.9,341.4 549.3,341.3 549.6,341.1 549.9,340.8 550.2,340.1 550.4,338.9 550.7,337.2 550.8,336.8 550.8,336.4 550.9,336.0 550.9,335.6 551.0,335.1 551.0,334.6 551.1,334.1 551.1,333.6 551.2,333.1 551.2,332.5 551.3,332.0 551.3,331.4 551.3,330.8 551.4,330.2 551.4,329.5 551.5,328.9 551.5,328.3 551.6,327.6 551.6,326.9 551.7,326.3 551.7,325.6 551.8,324.9 551.8,324.2 551.8,323.6 551.9,322.9 551.9,322.2 552.0,321.5 552.0,320.8 552.1,320.1 552.1,319.5 552.1,318.8 552.2,318.1 552.2,317.5 552.3,316.8 552.3,316.2 552.4,315.6 552.4,314.9 552.4,314.3 552.5,313.7 552.5,313.2 552.5,312.6 552.6,311.9 552.6,311.3 552.7,310.6 552.7,310.0 552.8,309.3 552.8,308.6 552.8,308.0 552.9,307.3 552.9,306.6 553.0,306.0 553.0,305.3 553.0,304.7 553.1,304.0 553.1,303.4 553.1,302.7 553.2,302.1 553.2,301.4 553.2,300.8 553.3,300.2 553.3,299.6 553.3,298.9 553.4,298.3 553.4,297.8 553.5,297.2 553.5,296.6 553.5,296.0 553.6,295.5 553.6,295.0 553.6,294.4 553.7,293.9 553.7,293.4 553.7,293.0 553.8,292.5 553.8,292.0 553.8,291.6 553.9,290.6 554.0,289.7 554.1,288.8 554.1,288.1 554.2,287.4 554.3,286.8 554.4,286.2 554.5,285.7 554.5,285.2 554.6,284.7 554.7,284.2 554.8,283.8 554.8,283.3 554.9,282.8 555.0,281.9 555.1,281.0 555.2,280.1 555.4,279.3 555.5,278.6 555.6,278.1 555.7,277.7 555.8,277.5 556.0,277.7 556.1,278.2 556.3,278.9 556.4,279.8 556.6,280.6 556.8,281.4 557.1,281.9 558.3,282.1 559.6,282.8 559.8,283.2 559.9,283.5 560.0,283.9 560.2,284.4 560.3,284.9 560.4,285.4 560.5,285.9 560.6,286.6 560.7,287.2 560.8,288.0 560.9,288.8 561.0,289.6 561.2,290.6 561.3,291.6 561.3,292.0 561.4,292.5 561.4,293.0 561.5,293.5 561.5,294.0 561.6,294.5 561.6,295.0 561.7,295.6 561.7,296.1 561.7,296.7 561.8,297.3 561.8,297.9 561.9,298.5 561.9,299.1 562.0,299.7 562.0,300.4 562.1,301.0 562.1,301.7 562.2,302.3 562.2,303.0 562.3,303.6 562.3,304.3 562.4,304.9 562.4,305.6 562.5,306.2 562.5,306.9 562.5,307.5 562.6,308.2 562.6,308.8 562.7,309.5 562.7,310.1 562.8,310.8 562.8,311.4 562.9,312.0 562.9,312.6 563.0,313.2 563.0,313.8 563.0,314.5 563.1,315.1 563.1,315.7 563.2,316.4 563.2,317.0 563.2,317.7 563.3,318.4 563.3,319.0 563.3,319.7 563.4,320.4 563.4,321.0 563.5,321.7 563.5,322.4 563.5,323.0 563.6,323.7 563.6,324.4 563.6,325.0 563.7,325.6 563.7,326.3 563.8,326.9 563.8,327.5 563.8,328.1 563.9,328.7 563.9,329.3 564.0,329.8 564.0,330.4 564.1,330.9 564.1,331.4 564.2,331.9 564.2,332.4 564.3,332.9 564.3,333.3 564.4,333.7 564.5,334.9 564.7,335.9 564.9,336.8 565.1,337.6 565.4,338.2 565.6,338.8 565.8,339.3 566.0,339.7 566.3,340.0 566.5,340.4 566.7,340.7 568.0,341.5 569.3,340.7 569.6,340.4 569.8,340.2 570.1,340.0 570.4,339.7 570.7,339.2 571.0,338.7 571.3,337.9 571.6,336.8 571.8,335.4 571.9,335.0 571.9,334.6 572.0,334.2 572.1,333.7 572.1,333.3 572.2,332.8 572.2,332.2 572.3,331.7 572.4,331.2 572.4,330.6 572.5,330.0 572.5,329.4 572.6,328.8 572.6,328.2 572.7,327.6 572.8,326.9 572.8,326.3 572.9,325.6 572.9,325.0 573.0,324.3 573.0,323.6 573.1,323.0 573.2,322.3 573.2,321.6 573.3,320.9 573.3,320.3 573.4,319.6 573.4,318.9 573.5,318.3 573.5,317.6 573.6,316.9 573.7,316.3 573.7,315.6 573.8,315.0 573.8,314.4 573.9,313.8 573.9,313.2 574.0,312.6 574.1,312.0 574.1,311.3 574.2,310.7 574.2,310.0 574.3,309.4 574.4,308.7 574.4,308.1 574.5,307.4 574.6,306.8 574.6,306.1 574.7,305.4 574.7,304.8 574.8,304.1 574.9,303.4 574.9,302.8 575.0,302.1 575.0,301.5 575.1,300.8 575.2,300.2 575.2,299.6 575.3,299.0 575.3,298.4 575.4,297.8 575.5,297.2 575.5,296.6 575.6,296.0 575.7,295.5 575.7,294.9 575.8,294.4 575.9,293.9 575.9,293.4 576.0,292.9 576.0,292.5 576.1,292.0 576.2,291.6 576.4,290.5 576.5,289.6 576.7,288.7 576.9,287.9 577.1,287.2 577.3,286.6 577.5,286.1 577.7,285.6 577.9,285.1 578.1,284.7 578.3,284.3 578.5,284.0 578.7,283.7 579.8,282.9 581.0,283.0 582.0,283.7 582.2,284.0 582.4,284.3 582.6,284.7 582.7,285.1 582.9,285.5 583.0,286.1 583.2,286.8 583.3,287.6 583.5,288.6 583.6,289.8 583.7,290.2 583.8,290.6 583.8,291.1 583.9,291.6 584.0,292.1 584.0,292.6 584.1,293.2 584.2,293.7 584.2,294.3 584.3,294.9 584.4,295.5 584.4,296.1 584.5,296.8 584.6,297.4 584.6,298.1 584.7,298.7 584.8,299.4 584.9,300.1 584.9,300.7 585.0,301.4 585.1,302.1 585.1,302.8 585.2,303.4 585.3,304.1 585.4,304.7 585.4,305.4 585.5,306.0 585.6,306.7 585.6,307.3 585.7,307.9 585.8,308.5 585.8,309.1 585.9,309.7 586.0,310.4 586.0,311.0 586.1,311.7 586.2,312.4 586.2,313.0 586.3,313.7 586.4,314.4 586.4,315.1 586.5,315.7 586.6,316.4 586.6,317.1 586.7,317.7 586.8,318.4 586.8,319.0 586.9,319.7 586.9,320.3 587.0,320.9 587.1,321.5 587.1,322.1 587.2,322.7 587.2,323.3 587.3,323.8 587.4,324.4 587.4,324.9 587.5,325.4 587.5,325.8 587.6,326.3 587.6,326.7 587.8,327.8 587.9,328.9 588.0,329.8 588.1,330.6 588.3,331.2 588.4,331.8 588.5,332.2 588.6,332.5 588.8,332.7 588.9,332.8 589.1,332.7 589.3,332.5 589.4,332.2 589.6,331.8 589.9,331.2 590.1,330.6 590.3,329.8 590.5,328.9 590.7,327.8 590.9,326.7 591.0,326.3 591.1,325.8 591.1,325.3 591.2,324.8 591.3,324.3 591.3,323.7 591.4,323.1 591.5,322.5 591.5,321.9 591.6,321.2 591.7,320.5 591.7,319.9 591.8,319.2 591.9,318.5 592.0,317.8 592.0,317.1 592.1,316.5 592.2,315.8 592.3,315.1 592.3,314.4 592.4,313.8 592.5,313.1 592.6,312.5 592.6,311.9 592.7,311.3 592.8,310.7 592.9,310.1 593.0,309.6 593.1,309.1 593.3,308.3 593.4,307.5 593.6,306.7 593.8,305.9 594.0,305.2 594.2,304.5 594.4,303.8 594.6,303.1 594.8,302.5 595.0,301.9 595.2,301.3 595.4,300.8 595.6,300.3 595.8,299.8 596.0,299.4 596.2,299.0 596.4,298.6 597.5,297.3 598.5,297.7 598.9,298.0 599.3,298.5 599.8,299.2 600.2,299.9 600.6,300.6 601.1,301.2 601.6,301.8 602.1,302.3 602.6,302.9 603.1,303.5 603.7,304.1 604.4,304.7 604.9,305.2 605.5,305.8 606.1,306.3 606.7,306.9 607.3,307.5 607.9,308.0 608.5,308.6 609.1,309.1 609.8,309.8 610.6,310.6 611.3,311.3 612.0,311.9 612.6,312.4 613.3,312.6 613.9,312.5 614.6,312.1 615.1,311.5 615.7,310.7 616.4,310.0 616.8,309.5 617.3,308.9 617.8,308.3 618.3,307.7 618.8,307.1 619.2,306.5 619.7,306.0 620.2,305.6 621.3,304.9 622.4,304.6 623.5,304.7 624.1,305.0 624.6,305.6 625.2,306.3 625.8,307.0 626.5,307.4 627.6,307.7 628.9,307.8 630.2,308.2 632.4,307.2 634.2,307.3 636.0,306.4 637.8,306.9 640.0,306.0 642.2,306.2 644.2,305.1 646.4,306.9 648.2,307.0 650.6,308.3 652.9,308.1 654.7,307.5 656.9,306.3 659.1,306.2 661.4,305.4 663.2,306.6 665.3,305.8 667.4,307.5 669.4,306.3 671.6,307.6 673.5,306.9 675.6,308.0 677.4,307.2 679.0,308.5 680.7,308.1 682.4,309.0 684.3,308.2 685.9,309.0 688.1,308.2 690.2,309.3 691.9,308.2 693.8,308.9 696.0,307.0 697.7,307.4 700.0,307.4"/>
<polyline class="w" points="116.4,430.9 118.9,430.4 119.5,417.5 121.3,418.0 121.8,430.4 122.9,431.4 124.2,467.4 124.9,436.4 126.2,488.6 126.9,441.4 128.0,419.4 128.9,436.4 130.2,412.5 130.9,433.4 131.8,419.4 132.7,429.4 133.6,429.0 136.5,432.2 139.5,429.7 142.5,431.4 145.5,429.7 148.4,430.2 149.8,429.0 149.8,429.3 150.2,412.0 150.7,400.6 152.2,403.9 154.4,406.4 156.7,419.5 159.1,426.0 160.2,429.3 161.1,465.3 162.0,467.0 164.5,464.0 167.1,465.0 169.6,463.0 170.0,430.0 170.5,410.0 171.6,397.4 173.1,405.5 176.0,414.5 179.1,422.7 180.5,427.6 181.3,440.0 182.0,470.2 183.5,466.0 186.4,464.0 189.5,465.0 192.7,463.0 193.6,425.0 194.7,399.6 196.4,401.0 198.0,400.8 198.5,410.0 199.1,430.0 200.4,452.0 202.5,460.7 205.1,438.9 206.2,418.4 207.5,425.2 208.7,445.7 210.0,432.1 211.3,425.2 212.5,415.7 213.6,411.6 214.9,443.0 216.2,417.0 217.5,414.0 218.7,414.3 219.8,425.2 221.1,415.7 222.4,432.1 223.6,436.1 224.9,438.9 226.0,436.1 227.3,428.0 228.5,432.1 229.8,437.5 231.1,430.7 232.4,424.0 233.5,421.2 234.7,428.0 236.0,438.9 237.3,429.3 238.5,422.5 239.6,425.0 240.9,428.0 242.2,426.0 243.5,425.2 244.5,427.0 245.8,429.3 247.1,428.0 248.4,427.3 249.6,429.0 250.9,426.8 252.9,433.4 254.5,427.9 256.0,433.4 257.3,427.4 258.9,432.3 260.0,430.1 262.0,431.0 263.7,429.3 265.4,429.2 267.7,427.5 269.8,429.7 271.9,428.3 273.5,429.8 275.8,429.2 277.6,430.1 279.2,429.6 281.0,430.7 282.9,429.2 285.3,430.3 287.6,429.4 289.2,430.7 291.2,428.5 293.0,430.4 295.1,429.0 297.4,430.2 299.6,429.6 301.2,430.2 303.4,429.4 305.0,431.0 307.0,429.1 308.8,430.5 310.7,429.1 312.5,430.6 314.3,429.7 316.5,430.2 318.1,429.3 319.8,430.5 322.0,429.9 324.1,430.7 326.0,430.1 327.6,430.1 328.0,429.5 328.3,428.7 328.7,428.0 329.1,427.5 329.9,426.9 330.9,426.6 331.8,426.5 333.2,426.9 334.5,427.3 335.9,427.0 337.3,426.6 338.6,426.9 340.0,427.2 341.4,427.0 342.7,426.8 343.9,427.1 345.1,428.0 345.4,428.5 345.8,429.1 346.1,429.8 346.4,430.5 346.8,431.2 347.3,432.0 347.7,432.6 348.1,433.4 348.5,434.2 349.0,435.1 349.5,435.8 350.0,436.4 350.4,436.8 350.9,437.0 351.4,436.9 351.8,436.5 352.3,435.9 352.8,435.2 353.2,434.5 353.7,433.6 354.1,432.8 354.5,432.0 354.8,431.4 355.1,430.8 355.4,430.1 355.6,429.5 355.9,428.8 356.1,428.1 356.4,427.4 356.6,426.7 356.8,426.1 357.0,425.5 357.3,425.0 357.7,424.1 358.0,423.3 358.4,422.6 358.7,422.1 359.1,421.7 359.5,421.6 359.8,421.7 360.2,422.1 360.6,422.7 361.0,423.3 361.4,424.1 361.8,425.0 362.1,425.5 362.3,426.1 362.6,426.7 362.8,427.4 363.1,428.1 363.3,428.8 363.6,429.5 363.8,430.1 364.1,430.8 364.3,431.4 364.5,432.0 364.8,432.8 365.1,433.6 365.4,434.4 365.6,435.1 365.9,435.8 366.2,436.4 366.4,436.8 366.7,437.0 367.2,436.9 367.7,436.4 368.2,435.7 368.7,434.8 369.3,434.0 369.7,433.5 370.2,432.9 370.7,432.3 371.2,431.6 371.7,431.0 372.3,430.5 372.9,430.0 373.7,429.6 374.6,429.2 375.5,428.9 376.5,428.6 377.4,428.3 378.4,428.0 379.3,427.6 380.2,427.1 381.2,426.6 382.1,426.1 383.0,425.8 383.8,425.6 384.9,425.6 385.7,426.0 386.6,426.4 387.5,427.0 388.1,427.4 388.7,427.9 389.3,428.4 390.0,428.9 390.5,429.5 391.1,430.0 391.7,430.7 392.2,431.4 392.6,432.2 393.1,432.7 393.6,433.0 394.3,432.8 395.0,432.3 395.8,431.6 396.5,431.0 397.8,430.5 399.1,430.0 400.2,429.7 401.8,429.6 404.1,429.8 405.9,430.7 408.2,429.6 410.1,430.6 411.9,430.0 413.9,431.1 416.1,430.0 418.0,430.6 419.7,430.0 421.9,431.3 423.6,430.4 425.8,430.6 427.5,430.2 429.8,430.5 431.6,429.6 433.7,431.0 435.5,429.5 437.3,430.1 439.3,429.6 441.1,430.1 443.5,430.0 445.2,431.2 446.9,429.5 449.3,430.8 451.5,429.9 453.2,430.7 454.9,429.8 456.8,430.5 458.7,429.8 460.9,430.4 463.0,429.7 464.7,430.2 466.6,429.2 469.0,430.7 471.0,429.7 473.0,430.4 475.1,430.7 477.4,432.2 479.6,430.7 481.7,431.9 483.6,430.9 485.3,432.8 487.5,431.5 489.6,432.1 491.5,431.5 493.6,432.2 495.8,430.2 497.5,430.7 499.8,430.4 501.7,431.2 503.4,430.1 505.1,430.6 507.5,429.6 509.1,431.4 511.2,430.2 513.2,431.2 515.4,430.5 517.4,431.3 519.1,429.4 521.1,430.6 522.8,429.6 524.6,430.2 526.5,429.5 528.1,430.0 529.7,429.0 530.4,428.0 530.5,427.6 530.7,427.1 530.8,426.6 530.9,426.1 531.0,425.4 531.1,424.8 531.3,424.1 531.4,423.4 531.5,422.6 531.6,421.8 531.7,421.3 531.8,420.7 531.9,420.1 532.0,419.5 532.1,418.9 532.2,418.2 532.3,417.6 532.4,416.9 532.5,416.2 532.7,415.5 532.8,414.9 532.9,414.2 533.0,413.6 533.1,412.9 533.2,412.4 533.3,411.8 533.5,411.3 533.7,410.5 533.9,409.7 534.0,409.0 534.2,408.3 534.5,407.6 534.7,407.0 534.9,406.5 535.1,406.0 535.4,405.6 535.6,405.2 536.7,404.3 537.9,404.1 538.9,404.6 539.1,404.9 539.3,405.1 539.5,405.4 539.6,405.7 539.8,406.0 539.9,406.5 540.0,407.1 540.1,407.9 540.3,408.8 540.4,409.9 540.5,411.3 540.6,411.7 540.6,412.1 540.7,412.6 540.7,413.0 540.7,413.5 540.8,414.0 540.8,414.5 540.9,415.1 540.9,415.6 540.9,416.2 541.0,416.8 541.0,417.4 541.0,418.0 541.1,418.6 541.1,419.2 541.2,419.9 541.2,420.5 541.2,421.2 541.3,421.9 541.3,422.5 541.4,423.2 541.4,423.9 541.4,424.6 541.5,425.3 541.5,426.0 541.5,426.7 541.6,427.3 541.6,428.0 541.7,428.7 541.7,429.4 541.7,430.1 541.8,430.8 541.8,431.4 541.9,432.1 541.9,432.8 541.9,433.4 542.0,434.0 542.0,434.7 542.0,435.3 542.1,435.9 542.1,436.5 542.1,437.0 542.2,437.6 542.2,438.3 542.3,439.0 542.3,439.6 542.4,440.3 542.4,441.0 542.4,441.7 542.5,442.4 542.5,443.1 542.6,443.8 542.6,444.4 542.6,445.1 542.7,445.8 542.7,446.5 542.8,447.1 542.8,447.8 542.8,448.4 542.9,449.1 542.9,449.7 543.0,450.4 543.0,451.0 543.1,451.6 543.1,452.2 543.1,452.8 543.2,453.4 543.2,453.9 543.3,454.5 543.3,455.0 543.3,455.5 543.4,456.0 543.4,456.5 543.5,457.0 543.5,457.4 543.5,457.9 543.6,458.3 543.6,458.7 543.8,459.9 543.9,461.0 544.1,461.8 544.2,462.5 544.3,463.1 544.5,463.5 544.7,463.9 544.8,464.2 545.0,464.5 545.3,464.8 546.3,465.4 547.5,465.4 548.5,464.8 548.9,464.6 549.3,464.4 549.6,464.2 549.9,463.8 550.2,463.1 550.4,462.0 550.7,460.4 550.8,460.0 550.8,459.6 550.9,459.2 550.9,458.8 551.0,458.3 551.0,457.9 551.1,457.4 551.1,456.9 551.2,456.3 551.2,455.8 551.3,455.2 551.3,454.7 551.4,454.1 551.4,453.5 551.5,452.9 551.5,452.3 551.6,451.7 551.6,451.0 551.7,450.4 551.7,449.7 551.8,449.1 551.8,448.4 551.9,447.7 551.9,447.0 552.0,446.4 552.0,445.7 552.1,445.0 552.1,444.3 552.2,443.6 552.2,443.0 552.2,442.3 552.3,441.6 552.3,440.9 552.4,440.2 552.4,439.6 552.5,438.9 552.5,438.2 552.5,437.6 552.6,437.0 552.6,436.4 552.7,435.8 552.7,435.2 552.7,434.6 552.8,434.0 552.8,433.3 552.8,432.7 552.9,432.0 552.9,431.4 552.9,430.7 552.9,430.0 553.0,429.4 553.0,428.7 553.0,428.0 553.1,427.3 553.1,426.7 553.1,426.0 553.2,425.3 553.2,424.6 553.2,424.0 553.2,423.3 553.3,422.6 553.3,422.0 553.3,421.3 553.4,420.7 553.4,420.0 553.4,419.4 553.4,418.8 553.5,418.1 553.5,417.5 553.5,416.9 553.5,416.3 553.6,415.8 553.6,415.2 553.6,414.7 553.7,414.1 553.7,413.6 553.7,413.1 553.7,412.6 553.8,412.2 553.8,411.7 553.8,411.3 553.9,410.2 554.0,409.2 554.0,408.3 554.1,407.4 554.2,406.7 554.2,405.9 554.3,405.3 554.3,404.7 554.4,404.2 554.5,403.7 554.5,403.2 554.6,402.9 554.7,402.5 554.7,402.2 554.8,401.9 554.9,401.7 555.3,401.5 555.6,402.3 556.1,403.4 556.5,404.3 557.3,404.6 558.2,404.8 559.1,406.0 559.2,406.4 559.4,406.8 559.5,407.2 559.6,407.7 559.8,408.1 559.9,408.7 560.0,409.2 560.2,409.8 560.3,410.4 560.4,411.1 560.6,411.7 560.7,412.4 560.8,413.2 560.9,414.0 561.0,414.8 561.2,415.7 561.3,416.6 561.3,417.1 561.4,417.5 561.4,418.0 561.5,418.5 561.5,419.1 561.6,419.6 561.6,420.1 561.7,420.7 561.7,421.3 561.8,421.8 561.8,422.4 561.9,423.0 561.9,423.6 562.0,424.2 562.0,424.9 562.1,425.5 562.1,426.1 562.2,426.8 562.2,427.4 562.2,428.0 562.3,428.7 562.3,429.3 562.4,430.0 562.4,430.6 562.5,431.3 562.5,431.9 562.6,432.6 562.6,433.2 562.6,433.9 562.7,434.5 562.7,435.1 562.8,435.8 562.8,436.4 562.9,437.0 562.9,437.6 563.0,438.2 563.0,438.8 563.0,439.5 563.1,440.1 563.1,440.7 563.2,441.4 563.2,442.1 563.2,442.7 563.3,443.4 563.3,444.1 563.3,444.8 563.4,445.4 563.4,446.1 563.5,446.8 563.5,447.5 563.5,448.1 563.6,448.8 563.6,449.5 563.6,450.1 563.7,450.8 563.7,451.4 563.8,452.0 563.8,452.6 563.8,453.2 563.9,453.8 563.9,454.4 564.0,454.9 564.0,455.5 564.1,456.0 564.1,456.5 564.2,457.0 564.2,457.5 564.3,457.9 564.3,458.3 564.4,458.7 564.6,460.0 564.8,461.0 565.1,461.8 565.3,462.4 565.6,462.9 565.9,463.2 566.2,463.5 566.5,463.7 566.7,464.0 568.0,464.7 569.3,464.0 569.6,463.7 569.8,463.5 570.1,463.2 570.4,462.9 570.7,462.4 571.0,461.8 571.3,461.0 571.6,460.0 571.8,458.7 571.9,458.3 572.0,457.9 572.0,457.5 572.1,457.0 572.1,456.5 572.2,456.1 572.3,455.5 572.3,455.0 572.4,454.5 572.5,453.9 572.5,453.4 572.6,452.8 572.7,452.2 572.7,451.6 572.8,450.9 572.8,450.3 572.9,449.7 573.0,449.0 573.0,448.4 573.1,447.7 573.1,447.0 573.2,446.4 573.3,445.7 573.3,445.0 573.4,444.3 573.4,443.7 573.5,443.0 573.6,442.3 573.6,441.6 573.7,440.9 573.8,440.3 573.8,439.6 573.9,438.9 573.9,438.3 574.0,437.6 574.1,437.0 574.1,436.4 574.2,435.8 574.2,435.2 574.3,434.6 574.3,434.0 574.4,433.3 574.4,432.7 574.5,432.0 574.5,431.3 574.6,430.7 574.7,430.0 574.7,429.3 574.8,428.6 574.8,427.9 574.9,427.2 574.9,426.6 575.0,425.9 575.0,425.2 575.1,424.5 575.2,423.9 575.2,423.2 575.3,422.5 575.3,421.9 575.4,421.2 575.4,420.6 575.5,420.0 575.5,419.3 575.6,418.7 575.6,418.1 575.7,417.6 575.8,417.0 575.8,416.4 575.9,415.9 575.9,415.4 576.0,414.9 576.0,414.4 576.1,414.0 576.1,413.5 576.2,413.1 576.3,411.9 576.5,410.9 576.6,410.0 576.8,409.2 576.9,408.5 577.1,407.9 577.2,407.4 577.3,406.9 577.5,406.5 577.6,406.1 577.8,405.8 578.0,405.5 578.2,405.2 579.7,404.2 581.3,405.2 581.5,405.5 581.7,405.8 581.9,406.2 582.1,406.6 582.2,407.1 582.4,407.6 582.6,408.1 582.8,408.7 582.9,409.4 583.1,410.2 583.3,411.1 583.5,412.0 583.6,413.1 583.7,413.5 583.8,414.0 583.8,414.4 583.9,414.9 584.0,415.4 584.0,416.0 584.1,416.5 584.2,417.1 584.2,417.7 584.3,418.2 584.3,418.8 584.4,419.5 584.5,420.1 584.5,420.7 584.6,421.4 584.7,422.0 584.7,422.7 584.8,423.3 584.9,424.0 584.9,424.7 585.0,425.3 585.0,426.0 585.1,426.6 585.2,427.3 585.2,428.0 585.3,428.6 585.3,429.3 585.4,429.9 585.5,430.5 585.5,431.2 585.6,431.8 585.6,432.4 585.7,433.0 585.8,433.5 585.8,434.1 585.9,434.8 586.0,435.4 586.0,436.1 586.1,436.8 586.2,437.5 586.2,438.2 586.3,438.9 586.4,439.6 586.4,440.3 586.5,440.9 586.6,441.6 586.6,442.3 586.7,443.0 586.8,443.6 586.8,444.3 586.9,444.9 586.9,445.5 587.0,446.1 587.1,446.7 587.1,447.3 587.2,447.9 587.2,448.5 587.3,449.0 587.4,449.5 587.4,450.0 587.5,450.4 587.5,450.9 587.6,451.3 587.6,451.7 587.8,453.1 588.0,454.1 588.2,454.9 588.3,455.5 588.5,455.8 588.7,456.0 588.9,456.0 589.2,456.0 589.4,455.8 589.7,455.5 590.0,454.9 590.3,454.1 590.6,453.1 590.9,451.7 591.0,451.3 591.0,450.9 591.1,450.4 591.1,449.9 591.2,449.4 591.3,448.8 591.3,448.2 591.4,447.6 591.4,447.0 591.5,446.4 591.5,445.7 591.6,445.1 591.6,444.4 591.7,443.7 591.7,443.0 591.8,442.3 591.8,441.6 591.9,440.9 592.0,440.2 592.0,439.5 592.1,438.9 592.1,438.2 592.2,437.6 592.2,436.9 592.3,436.3 592.4,435.7 592.4,435.2 592.5,434.6 592.5,434.1 592.6,433.3 592.8,432.6 592.9,431.9 593.0,431.1 593.1,430.4 593.2,429.7 593.3,429.0 593.4,428.4 593.5,427.7 593.6,427.1 593.8,426.5 593.9,425.9 594.0,425.4 594.1,424.8 594.2,424.4 594.4,423.9 594.5,423.5 594.6,423.1 594.7,422.7 595.6,421.3 596.4,420.9 597.3,421.0 597.8,421.4 598.3,422.1 598.8,422.9 599.5,423.6 600.2,424.1 601.0,424.6 601.9,425.0 602.7,425.4 603.5,425.7 604.3,426.0 605.0,426.4 605.8,427.1 606.2,427.5 606.5,428.1 606.9,428.7 607.3,429.3 607.6,430.0 608.0,430.6 608.4,431.3 608.7,431.9 609.1,432.4 609.6,433.2 610.2,434.0 610.7,434.8 611.3,435.4 611.8,435.8 612.4,435.9 612.8,435.7 613.2,435.2 613.6,434.6 614.1,433.9 614.5,433.1 615.0,432.2 615.5,431.5 615.9,430.9 616.3,430.2 616.8,429.5 617.3,428.8 617.8,428.1 618.3,427.5 618.8,426.9 619.2,426.5 619.6,426.2 620.5,426.1 621.2,426.6 621.9,427.3 622.7,428.0 623.3,428.5 623.9,429.0 624.5,429.7 625.2,430.2 625.8,430.7 626.5,431.0 627.7,431.1 628.9,430.9 630.2,431.1 632.1,429.9 633.9,430.2 636.2,428.8 638.0,429.9 639.9,429.4 641.6,429.7 643.9,429.9 645.8,430.1 647.6,429.0 649.5,430.5 651.8,429.5 653.7,429.6 655.8,429.4 658.0,429.7 660.3,428.9 662.2,429.5 664.2,428.9 665.8,429.8 667.6,429.2 669.4,430.0 671.4,429.6 673.5,429.9 675.8,428.9 677.5,430.0 679.8,428.6 681.5,429.9 683.6,428.8 685.2,430.6 687.4,429.6 689.0,429.6 690.8,429.2 692.7,430.7 695.0,428.9 696.8,430.7 700.0,430.7"/>
</g>
<polygon points="70.9,45.7 72.3,46.7 73.6,59.0 73.0,67.0 71.6,73.0 70.8,63.0" fill="#2a2a2a" fill-opacity="1.00"/>
<polygon points="70.8,63.0 72.6,67.0 71.2,91.0 69.8,103.0 69.3,89.0" fill="#777" fill-opacity="0.70"/>
<polygon points="70.9,169.0 72.3,170.0 73.6,182.3 73.0,190.3 71.6,196.3 70.8,186.3" fill="#2a2a2a" fill-opacity="1.00"/>
<polygon points="70.8,186.3 72.6,190.3 71.2,214.3 69.8,226.3 69.3,212.3" fill="#777" fill-opacity="0.70"/>
<polygon points="70.9,293.5 72.3,294.5 73.6,305.7 73.0,313.7 71.6,319.7 70.8,309.7" fill="#2a2a2a" fill-opacity="1.00"/>
<polygon points="70.8,309.7 72.6,313.7 71.2,337.7 69.8,349.7 69.3,335.7" fill="#777" fill-opacity="0.70"/>
<polygon points="70.9,416.5 72.3,417.5 73.6,429.4 73.0,437.4 71.6,443.4 70.8,433.4" fill="#2a2a2a" fill-opacity="1.00"/>
<polygon points="70.8,433.4 72.6,437.4 71.2,461.4 69.8,473.4 69.3,459.4" fill="#777" fill-opacity="0.70"/>
<polygon points="88.6,90.0 88.6,95.0 91.8,93.5" fill="#1a1a1a" fill-opacity="0.90"/>
<polygon points="100.0,90.0 100.0,95.5 104.0,93.2" fill="#1a1a1a" fill-opacity="0.90"/>
<polygon points="88.8,215.0 88.8,221.5 92.7,219.0" fill="#1a1a1a" fill-opacity="0.90"/>
<polygon points="100.6,214.5 100.6,221.0 104.2,218.5" fill="#1a1a1a" fill-opacity="0.90"/>
<polygon points="88.3,337.0 88.3,344.0 92.0,342.0" fill="#1a1a1a" fill-opacity="0.90"/>
<polygon points="99.8,337.0 99.8,344.0 104.2,341.5" fill="#1a1a1a" fill-opacity="0.90"/>
<polygon points="88.3,461.0 88.3,466.6 92.6,464.1" fill="#1a1a1a" fill-opacity="0.90"/>
<polygon points="99.8,460.5 99.8,466.0 104.7,463.3" fill="#1a1a1a" fill-opacity="0.90"/>
<polygon points="83.4,31.2 85.0,34.2 83.6,36.2" fill="#1a1a1a" fill-opacity="0.85"/>
<polygon points="94.4,26.8 96.0,29.8 94.6,31.8" fill="#1a1a1a" fill-opacity="0.85"/>
<polygon points="82.7,150.7 84.3,153.7 82.9,155.7" fill="#1a1a1a" fill-opacity="0.85"/>
<polygon points="94.5,148.2 96.1,151.2 94.7,153.2" fill="#1a1a1a" fill-opacity="0.85"/>
<polygon points="83.0,278.5 84.6,281.5 83.2,283.5" fill="#1a1a1a" fill-opacity="0.85"/>
<polygon points="94.5,275.3 96.1,278.3 94.7,280.3" fill="#1a1a1a" fill-opacity="0.85"/>
<polygon points="83.0,401.1 84.6,404.1 83.2,406.1" fill="#1a1a1a" fill-opacity="0.85"/>
<polygon points="94.5,397.9 96.1,400.9 94.7,402.9" fill="#1a1a1a" fill-opacity="0.85"/>
<rect class="r" x="174.8" y="156.1" width="43.2" height="53.0"/>
<rect class="r" x="164.0" y="294.3" width="52.7" height="28.0"/>
<rect class="r" x="180.7" y="417.8" width="37.0" height="27.0"/>
<rect class="f" x="63.50" y="6.70" width="321.50" height="122.80"/>
<rect class="f" x="63.50" y="129.50" width="321.50" height="123.60"/>
<rect class="f" x="63.50" y="253.10" width="321.50" height="123.60"/>
<rect class="f" x="63.50" y="376.70" width="321.50" height="123.30"/>
<text class="yl" transform="translate(56.9,34.00) scale(0.965,1)">1.5</text>
<text class="yl" transform="translate(56.9,65.00) scale(0.965,1)">0.0</text>
<text class="yl" transform="translate(56.9,96.80) scale(0.965,1)">-1.5</text>
<text class="yl" transform="translate(56.9,128.80) scale(0.965,1)">-3.0</text>
<text class="yl" transform="translate(56.9,156.90) scale(0.965,1)">1.4</text>
<text class="yl" transform="translate(56.9,188.60) scale(0.965,1)">0.0</text>
<text class="yl" transform="translate(56.9,221.00) scale(0.965,1)">-1.4</text>
<text class="yl" transform="translate(56.9,253.00) scale(0.965,1)">-2.8</text>
<text class="yl" transform="translate(56.9,280.80) scale(0.965,1)">1.5</text>
<text class="yl" transform="translate(56.9,312.70) scale(0.965,1)">0.0</text>
<text class="yl" transform="translate(56.9,343.90) scale(0.965,1)">-1.5</text>
<text class="yl" transform="translate(56.9,375.40) scale(0.965,1)">-3.0</text>
<text class="yl" transform="translate(56.9,404.10) scale(0.965,1)">1.5</text>
<text class="yl" transform="translate(56.9,435.50) scale(0.965,1)">0.0</text>
<text class="yl" transform="translate(56.9,467.30) scale(0.965,1)">-1.5</text>
<text class="yl" transform="translate(56.9,499.30) scale(0.965,1)">-3.0</text>
<text class="xl" transform="translate(63.80,517.4) scale(0.965,1)">0</text>
<text class="xl" transform="translate(117.39,517.4) scale(0.965,1)">5</text>
<text class="xl" transform="translate(170.97,517.4) scale(0.965,1)">10</text>
<text class="xl" transform="translate(224.56,517.4) scale(0.965,1)">15</text>
<text class="xl" transform="translate(278.14,517.4) scale(0.965,1)">20</text>
<text class="xl" transform="translate(331.73,517.4) scale(0.965,1)">25</text>
<text class="xl" transform="translate(385.31,517.4) scale(0.965,1)">30</text>
<path class="t" d="M63.50 29.60H70.00M63.50 60.60H70.00M63.50 92.40H70.00M63.50 124.40H70.00M63.50 13.50H67.00M63.50 45.10H67.00M63.50 76.60H67.00M63.50 108.40H67.00M63.50 152.50H70.00M63.50 184.20H70.00M63.50 216.60H70.00M63.50 248.60H70.00M63.50 136.40H67.00M63.50 168.40H67.00M63.50 200.50H67.00M63.50 232.50H67.00M63.50 276.40H70.00M63.50 308.30H70.00M63.50 339.50H70.00M63.50 371.00H70.00M63.50 260.50H67.00M63.50 292.40H67.00M63.50 323.90H67.00M63.50 355.40H67.00M63.50 399.70H70.00M63.50 431.10H70.00M63.50 462.90H70.00M63.50 494.90H70.00M63.50 384.10H67.00M63.50 415.60H67.00M63.50 447.20H67.00M63.50 478.90H67.00M63.50 500.00V493.70M117.09 500.00V493.70M170.67 500.00V493.70M224.25 500.00V493.70M277.84 500.00V493.70M331.43 500.00V493.70M385.01 500.00V493.70M90.29 500.00V496.70M143.88 500.00V496.70M197.46 500.00V496.70M251.05 500.00V496.70M304.63 500.00V496.70M358.22 500.00V496.70"/>
<text class="al" x="224.8" y="543.2" text-anchor="middle">Time (us)</text>
<text class="al" transform="translate(18.6,259) rotate(-90)" text-anchor="middle">Voltage Amplitude (V)</text>
<text class="cp" x="179.5" y="117.0">(a) No defect</text>
<text class="cp" x="181.8" y="239.0">(b) Transverse</text>
<text class="cp" x="182.1" y="364.0">(c) Oblique</text>
<text class="cp" x="182.3" y="486.6">(d) Vertical</text>
<text class="lt" x="86.3" y="23.8">F</text>
<text class="lt" x="302.1" y="25.7">B</text>
<text class="lt" x="87.3" y="143.4">F</text>
<text class="lt" x="189.7" y="148.2">D</text>
<text class="lt" x="302.7" y="145.7">B</text>
<text class="lt" x="86.4" y="271.8">F</text>
<text class="lt" x="185.7" y="285.0">D</text>
<text class="lt" x="301.8" y="271.9">B</text>
<text class="lt" x="85.8" y="392.0">F</text>
<text class="lt" x="194.6" y="405.8">D</text>
<text class="lt" x="300.8" y="395.5">B</text>
</svg>
</body></html>
